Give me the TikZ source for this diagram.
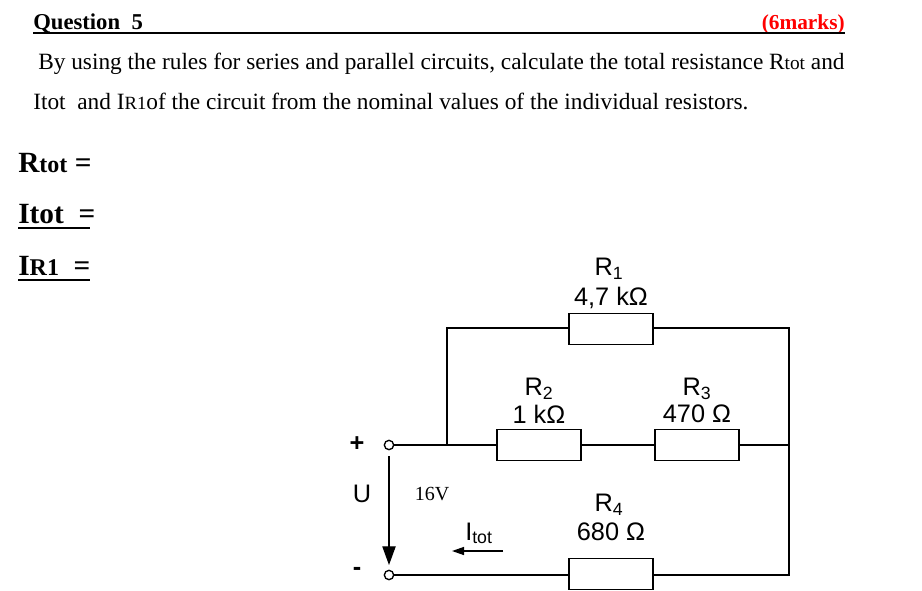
\documentclass[tikz,border=0pt]{standalone}
\usepackage{fontspec}
\usetikzlibrary{arrows.meta}
\setmainfont{Liberation Serif}
\newfontfamily\arial{Liberation Sans}
\begin{document}
\begin{tikzpicture}[x=0.75pt,y=-0.75pt,
  res/.style={draw,line width=1.2pt,fill=white,minimum width=63pt,minimum height=23pt,inner sep=0pt},
  term/.style={circle,draw,line width=1pt,fill=white,minimum size=7pt,inner sep=0pt},
  wire/.style={line width=1.2pt},
  lbl/.style={font=\arial\fontsize{19}{21}\selectfont,inner sep=0pt},
  tx/.style={font=\fontsize{17.5}{20}\selectfont,anchor=base west,inner sep=0pt},
  big/.style={font=\bfseries\fontsize{22}{24}\selectfont,anchor=base west,inner sep=0pt}]
\useasboundingbox (0,0) rectangle (922,590);
% header
\node[font=\bfseries\fontsize{17}{19}\selectfont,anchor=base west,inner sep=0pt] (q) at (33,29) {Question\ \ 5};
\node[font=\bfseries\fontsize{16}{18}\selectfont,anchor=base east,inner sep=0pt,text=red] (m) at (845,29) {(6marks)};
\draw[line width=1pt] (33,33) -- (845,33);
\node[tx] (p1) at (38,69) {By using the rules for series and parallel circuits, calculate the total resistance R{\fontsize{14.5}{16}\selectfont tot} and};
\node[tx] (p2) at (33,109) {Itot\ \ and I{\fontsize{14}{16}\selectfont R1}of the circuit from the nominal values of the individual resistors.};
\node[big] (a) at (18,172) {R{\fontsize{18}{20}\selectfont tot} =};
\node[big] (b) at (18,223) {Itot\ \ =};
\draw[line width=1pt] (18,228) -- (90,228);
\node[big] (c) at (18,275) {I{\fontsize{18}{20}\selectfont R1}\ \ =};
\draw[line width=1pt] (18,280) -- (90,280);
% circuit
\coordinate (tl) at (447,328);
\coordinate (tr) at (789,328);
\coordinate (ml) at (447,445);
\coordinate (mr) at (789,445);
\coordinate (br) at (789,575);
\node[term] (tp) at (389,445) {};
\node[term] (tm) at (389,575) {};
\draw[wire] (tp) -- (mr) -- (br) -- (tm);
\draw[wire] (ml) -- (tl) -- (tr) -- (mr);
\node[res] (r1) at (611,329) {};
\node[res] (r2) at (539,445) {};
\node[res] (r3) at (697,445) {};
\node[res] (r4) at (611,574) {};
\node[lbl] at (609,269) {R\textsubscript{1}};
\node[lbl] at (611,298) {4,7 kΩ};
\node[lbl] at (539,389) {R\textsubscript{2}};
\node[lbl] at (539,414) {1 kΩ};
\node[lbl] at (697,389) {R\textsubscript{3}};
\node[lbl] at (697,414) {470 Ω};
\node[lbl] at (609,505) {R\textsubscript{4}};
\node[lbl] at (611,532) {680 Ω};
\node[lbl] at (357,444) {\textbf{+}};
\node[lbl] at (362,494) {U};
\node[lbl] at (357,571) {\textbf{-}};
\node[font=\fontsize{15}{17}\selectfont] at (432,494) {16V};
\coordinate (va) at (389,456);
\coordinate (vb) at (389,565);
\draw[line width=0.8pt,-{Triangle[length=14pt,width=10pt]}] (va) -- (vb);
\coordinate (ia) at (503,551);
\coordinate (ib) at (452,551);
\draw[line width=1pt,-{Triangle[length=9pt,width=6pt]}] (ia) -- (ib);
\node[lbl,anchor=base west] at (465,540) {I\textsubscript{tot}};
\end{tikzpicture}
\end{document}
